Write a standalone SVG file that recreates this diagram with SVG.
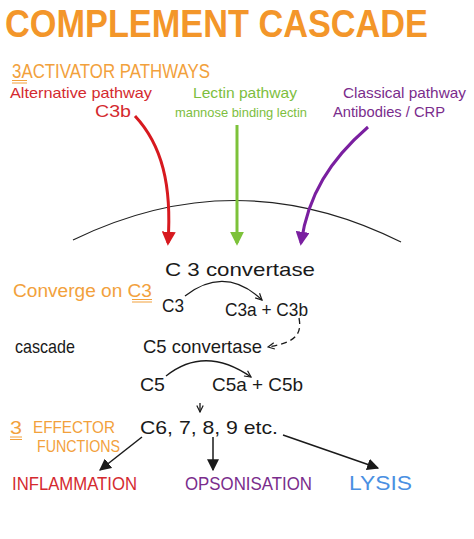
<svg xmlns="http://www.w3.org/2000/svg" width="474" height="539" viewBox="0 0 474 539">
<defs>
<style>
text{font-family:"Liberation Sans","DejaVu Sans",sans-serif;}
.blk{fill:#1a1a1a;font-size:19px;}
.org{fill:#F2A13C;}
.red{fill:#D42A2F;}
.grn{fill:#7DBE3E;}
.pur{fill:#7A2C8C;}
.blu{fill:#4A90E2;}
.ln{fill:none;stroke:#1a1a1a;stroke-width:1.3;}
</style>
<marker id="ah" viewBox="0 0 10 10" refX="9" refY="5" markerWidth="8" markerHeight="8" orient="auto" markerUnits="userSpaceOnUse"><path d="M1,1 L9,5 L1,9" fill="none" stroke="#1a1a1a" stroke-width="1.5"/></marker>
<marker id="ahf" viewBox="0 0 10 10" refX="9" refY="5" markerWidth="12" markerHeight="12" orient="auto" markerUnits="userSpaceOnUse"><path d="M0,0 L10,5 L0,10 Z" fill="#1a1a1a"/></marker>
<marker id="ahr" viewBox="0 0 10 10" refX="8" refY="5" markerWidth="14" markerHeight="14" orient="auto" markerUnits="userSpaceOnUse"><path d="M0,0 L10,5 L0,10 Z" fill="#D7191F"/></marker>
<marker id="ahg" viewBox="0 0 10 10" refX="8" refY="5" markerWidth="14" markerHeight="14" orient="auto" markerUnits="userSpaceOnUse"><path d="M0,0 L10,5 L0,10 Z" fill="#7DC23A"/></marker>
<marker id="ahp" viewBox="0 0 10 10" refX="8" refY="5" markerWidth="14" markerHeight="14" orient="auto" markerUnits="userSpaceOnUse"><path d="M0,0 L10,5 L0,10 Z" fill="#7A1FA0"/></marker>
</defs>
<rect width="474" height="539" fill="#ffffff"/>

<g id="title"><text x="5" y="37" font-size="38" fill="#F3962A" font-weight="bold" textLength="423" lengthAdjust="spacingAndGlyphs">COMPLEMENT CASCADE</text></g>

<g id="activator-heading">
<text x="12" y="78" class="org" font-size="20" textLength="198" lengthAdjust="spacingAndGlyphs">3ACTIVATOR PATHWAYS</text>
<line x1="12" y1="80.5" x2="27" y2="80.5" stroke="#F2A13C" stroke-width="1"/>
<line x1="12" y1="83" x2="27" y2="83" stroke="#F2A13C" stroke-width="1"/>
</g>

<g id="alternative">
<text x="10" y="98" class="red" font-size="15" textLength="142" lengthAdjust="spacingAndGlyphs">Alternative pathway</text>
<text x="95" y="117" class="red" font-size="17" textLength="36" lengthAdjust="spacingAndGlyphs">C3b</text>
</g>
<g id="lectin">
<text x="193" y="98" class="grn" font-size="15" textLength="104" lengthAdjust="spacingAndGlyphs">Lectin pathway</text>
<text x="175" y="117" class="grn" font-size="13" textLength="132" lengthAdjust="spacingAndGlyphs">mannose binding lectin</text>
</g>
<g id="classical">
<text x="343" y="98" class="pur" font-size="15" textLength="123" lengthAdjust="spacingAndGlyphs">Classical pathway</text>
<text x="333" y="117" class="pur" font-size="14" textLength="112" lengthAdjust="spacingAndGlyphs">Antibodies / CRP</text>
</g>

<g id="membrane"><path d="M73,240 Q237,160 401,242" fill="none" stroke="#222" stroke-width="1.2"/></g>

<g id="connectors">
<path d="M135,116 C162,145 172,185 168,243" fill="none" stroke="#D7191F" stroke-width="3" marker-end="url(#ahr)"/>
<path d="M237,125 L237,243" fill="none" stroke="#7DC23A" stroke-width="3" marker-end="url(#ahg)"/>
<path d="M368,127 C330,160 308,195 301,243" fill="none" stroke="#7A1FA0" stroke-width="3" marker-end="url(#ahp)"/>
<path d="M185,296 Q225,265 262,300" class="ln" marker-end="url(#ah)"/>
<path d="M299,318 C303,338 290,343 268,347" class="ln" stroke-dasharray="6,4" marker-end="url(#ah)"/>
<path d="M166,376 Q205,345 251,377" class="ln" marker-end="url(#ah)"/>
<path d="M200,403 L200,412" class="ln" marker-end="url(#ah)"/>
<path d="M142,437 L100,470" fill="none" stroke="#1a1a1a" stroke-width="1.5" marker-end="url(#ahf)"/>
<path d="M213,437 L213,470" fill="none" stroke="#1a1a1a" stroke-width="1.5" marker-end="url(#ahf)"/>
<path d="M283,435 L378,468" fill="none" stroke="#1a1a1a" stroke-width="1.5" marker-end="url(#ahf)"/>
</g>

<g id="c3-convertase"><text x="165" y="276" class="blk" font-size="21" textLength="150" lengthAdjust="spacingAndGlyphs">C 3  convertase</text></g>
<g id="converge">
<text x="13" y="297" class="org" font-size="18" textLength="139" lengthAdjust="spacingAndGlyphs">Converge on C3</text>
<line x1="132" y1="299.5" x2="152" y2="299.5" stroke="#F2A13C" stroke-width="1"/>
<line x1="132" y1="302" x2="152" y2="302" stroke="#F2A13C" stroke-width="1"/>
</g>
<g id="c3"><text x="162" y="312" class="blk" font-size="17" textLength="22" lengthAdjust="spacingAndGlyphs">C3</text></g>
<g id="c3a-c3b"><text x="225" y="316" class="blk" font-size="17" textLength="83" lengthAdjust="spacingAndGlyphs">C3a + C3b</text></g>
<g id="cascade"><text x="15" y="353" class="blk" font-size="17" textLength="60" lengthAdjust="spacingAndGlyphs">cascade</text></g>
<g id="c5-convertase"><text x="143" y="353" class="blk" font-size="17" textLength="119" lengthAdjust="spacingAndGlyphs">C5  convertase</text></g>
<g id="c5"><text x="140" y="391" class="blk" font-size="17" textLength="25" lengthAdjust="spacingAndGlyphs">C5</text></g>
<g id="c5a-c5b"><text x="212" y="391" class="blk" font-size="17" textLength="91" lengthAdjust="spacingAndGlyphs">C5a  + C5b</text></g>

<g id="effector-heading">
<text x="10" y="434" class="org" font-size="18" textLength="12" lengthAdjust="spacingAndGlyphs">3</text>
<line x1="10" y1="437" x2="22" y2="437" stroke="#F2A13C" stroke-width="1"/>
<line x1="10" y1="439.5" x2="22" y2="439.5" stroke="#F2A13C" stroke-width="1"/>
<text x="33" y="433" class="org" font-size="17" textLength="82" lengthAdjust="spacingAndGlyphs">EFFECTOR</text>
<text x="37" y="452" class="org" font-size="17" textLength="83" lengthAdjust="spacingAndGlyphs">FUNCTIONS</text>
</g>
<g id="c6-9"><text x="140" y="434" class="blk" font-size="20" textLength="138" lengthAdjust="spacingAndGlyphs">C6, 7, 8, 9  etc.</text></g>

<g id="inflammation"><text x="12" y="490" class="red" font-size="18" textLength="125" lengthAdjust="spacingAndGlyphs">INFLAMMATION</text></g>
<g id="opsonisation"><text x="185" y="490" class="pur" font-size="18" textLength="127" lengthAdjust="spacingAndGlyphs">OPSONISATION</text></g>
<g id="lysis"><text x="349" y="490" class="blu" font-size="20" textLength="63" lengthAdjust="spacingAndGlyphs">LYSIS</text></g>
</svg>
